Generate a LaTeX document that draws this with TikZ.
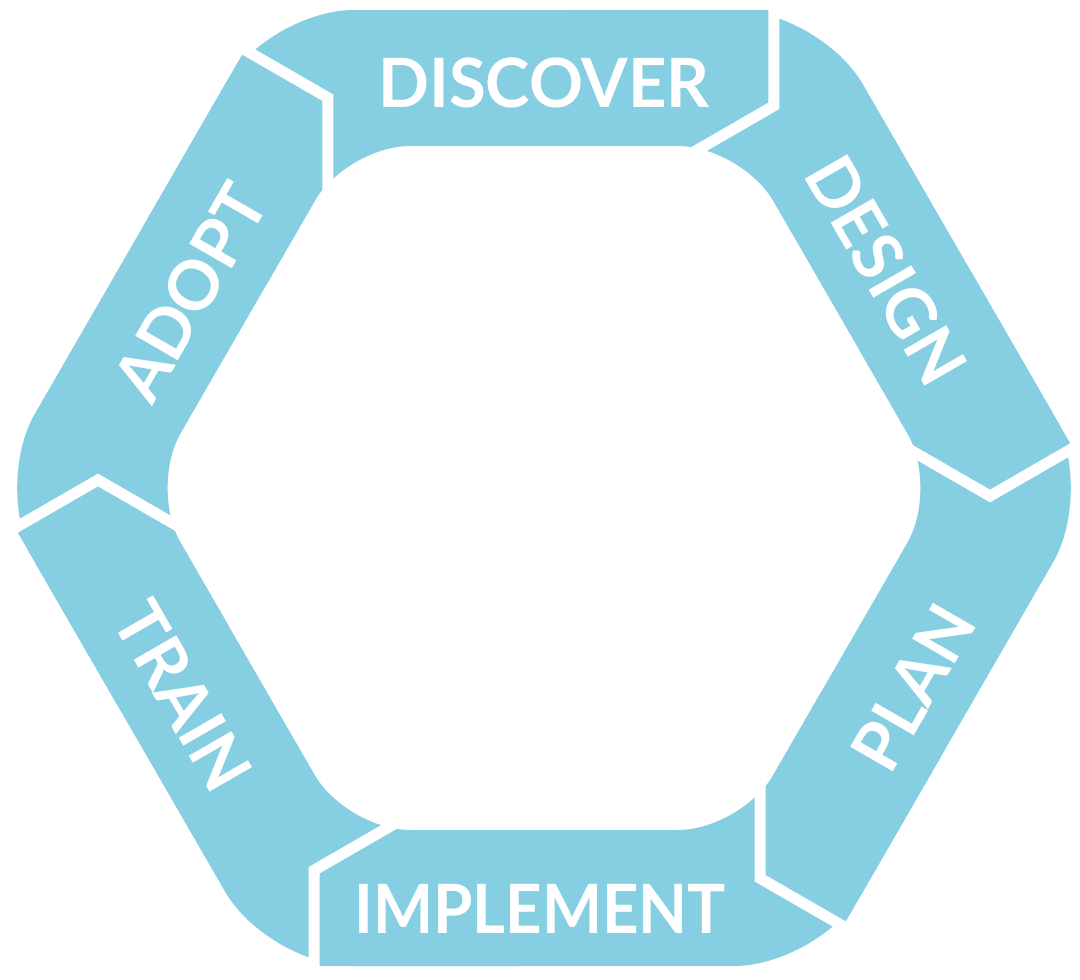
\documentclass[tikz,border=0pt]{standalone}
\usepackage{fontspec}
\setmainfont{Lato}
\definecolor{ringblue}{RGB}{134,206,225}
\begin{document}
\begin{tikzpicture}[x=1pt,y=-1pt,
  lbl/.style={text=white, font=\fontsize{68}{68}\selectfont\bfseries, inner sep=0pt},
  divider/.style={draw=white, line width=11pt, miter limit=10, line join=miter}]
\useasboundingbox (0,0) rectangle (1080,980);
% ring with rounded corners
\fill[ringblue, even odd rule]
  [rounded corners=86pt] (544,10) -- (820,10) -- (1096,488) -- (820,966) -- (268,966) -- (-8,488) -- (268,10) -- cycle
  [rounded corners=63.5pt] (544,146) -- (741.5,146) -- (939,488) -- (741.5,830) -- (346.5,830) -- (149,488) -- (346.5,146) -- cycle;
% sharp corners on the far side of each divider
\foreach \k in {0,...,5}{
  \begin{scope}[rotate around={60*\k:(544,488)}]
    \clip (98,480) -- ++(-130,75) -- ++(0,150) -- ++(260,0) -- ++(0,-150) -- cycle;
    \fill[ringblue, even odd rule]
      (544,10) -- (820,10) -- (1096,488) -- (820,966) -- (268,966) -- (-8,488) -- (268,10) -- cycle
      (544,146) -- (741.5,146) -- (939,488) -- (741.5,830) -- (346.5,830) -- (149,488) -- (346.5,146) -- cycle;
  \end{scope}
}
% white chevron dividers
\foreach \k in {0,...,5}{
  \draw[divider, rotate around={60*\k:(544,488)}] (2.7,535) -- (98,480) -- (193.3,535);
}
% labels
\node[lbl] (discover) at (544,83) {\scalebox{0.985}[1]{DISCOVER}};
\node[lbl, rotate=-60] (design) at (886,270) {DESIGN};
\node[lbl, rotate=60] (plan) at (913,688) {PLAN};
\node[lbl] (implement) at (540,909) {\scalebox{0.935}[1]{IMPLEMENT}};
\node[lbl, rotate=-60] (train) at (183,696) {TRAIN};
\node[lbl, rotate=60] (adopt) at (190,292) {ADOPT};
\end{tikzpicture}
\end{document}
